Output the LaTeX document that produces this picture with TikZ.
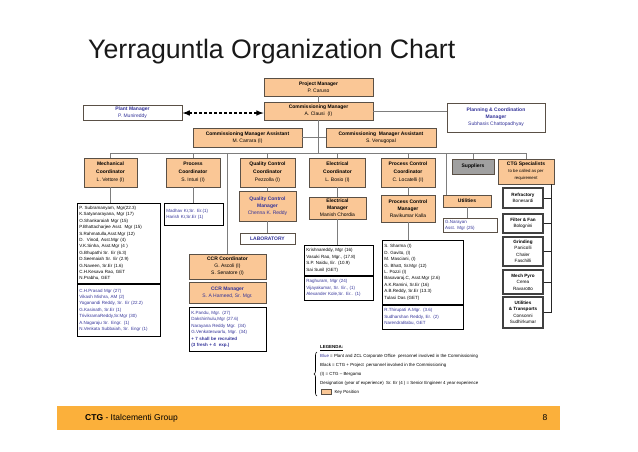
\documentclass[tikz,border=0pt]{standalone}
\usepackage{fontspec}
\setmainfont{Liberation Sans}
\usetikzlibrary{positioning, arrows, decorations.pathreplacing}
\definecolor{peach}{RGB}{250,199,150}
\definecolor{boxline}{RGB}{90,80,70}
\definecolor{wirecol}{RGB}{125,125,125}
\definecolor{zclblue}{RGB}{51,51,153}
\definecolor{supgray}{RGB}{160,160,160}
\definecolor{band}{RGB}{251,176,59}

\begin{document}
\begin{tikzpicture}[x=1pt, y=-1pt,
    box/.style={draw=boxline, line width=0.8pt, align=center, inner sep=1pt, font=\fontsize{5}{7}\selectfont},
    obox/.style={box, fill=peach},
    wbox/.style={box, fill=white, text=zclblue, line width=1pt},
    coord/.style={obox, minimum height=29pt, font=\fontsize{5}{8}\selectfont},
    list/.style={draw=black, line width=0.7pt, fill=white, anchor=north west, align=left, inner sep=2pt, font=\fontsize{4.5}{6.4}\selectfont},
    side/.style={box, fill=white, line width=1.3pt, draw=black!75, minimum width=40pt, font=\fontsize{4.6}{6.5}\selectfont},
    wire/.style={draw=wirecol, line width=1pt},
    legend/.style={anchor=west, inner sep=0pt, font=\fontsize{4.4}{6}\selectfont}]
\useasboundingbox (0,0) rectangle (638,451);

% title and footer
\node[anchor=base west, inner sep=0pt, text=black!90, font=\fontsize{26.7}{30}\selectfont] (title) at (88,58) {Yerraguntla Organization Chart};
\fill[band] (57,406) rectangle (560,430);
\node[anchor=west, inner sep=0pt, font=\fontsize{8.5}{10}\selectfont] (foot) at (85,418) {\textbf{CTG} - Italcementi Group};
\node[inner sep=0pt, font=\fontsize{8.5}{10}\selectfont] (page) at (545,418) {8};

% top management
\node[obox, minimum width=109pt, minimum height=18pt] (pm) at (318.5,87) {\textbf{Project Manager}\\P. Caruso};
\node[obox, minimum width=109pt, minimum height=18pt] (cm) at (318.5,111) {\textbf{Commissioning Manager}\\A. Clausi~~(I)};
\node[wbox, minimum width=99pt, minimum height=15pt] (plant) at (132.5,113) {\textbf{Plant Manager}\\P. Munireddy};
\node[wbox, minimum width=98pt, minimum height=29pt] (plan) at (496,117.5) {\textbf{Planning \& Coordination}\\\textbf{Manager}\\Subhasis Chattopadhyay};
\node[obox, minimum width=109pt, minimum height=19pt] (asl) at (247.5,137.5) {\textbf{Commissioning Manager Assistant}\\M. Carrara (I)};
\node[obox, minimum width=110pt, minimum height=19pt] (asr) at (381,137.5) {\textbf{Commissioning~~Manager Assistant}\\S. Venugopal};

% coordinators
\node[coord, minimum width=53pt] (mech) at (110.5,172.5) {\textbf{Mechanical}\\\textbf{Coordinator}\\L. Vettore (I)};
\node[coord, minimum width=54pt] (proc) at (193,172.5) {\textbf{Process}\\\textbf{Coordinator}\\S. Inturi (I)};
\node[coord, minimum width=55pt] (qcc) at (267.5,172.5) {\textbf{Quality Control}\\\textbf{Coordinator}\\Pezzolla (I)};
\node[coord, minimum width=56pt] (elc) at (337.5,172.5) {\textbf{Electrical}\\\textbf{Coordinator}\\L. Bosio (I)};
\node[coord, minimum width=54pt] (pcc) at (408,172.5) {\textbf{Process Control}\\\textbf{Coordinator}\\C. Locatelli (I)};
\node[box, fill=supgray, minimum width=42pt, minimum height=15pt] (sup) at (473,166.5) {\textbf{Suppliers}};
\node[obox, minimum width=56pt, minimum height=25pt] (ctg) at (526,171.5) {\textbf{CTG Specialists}\\{\fontsize{4.3}{6}\selectfont to be called as per}\\{\fontsize{4.3}{6}\selectfont requirement}};

% managers under coordinators
\node[obox, text=zclblue, minimum width=57pt, minimum height=30pt] (qcm) at (267.5,206) {\textbf{Quality Control}\\\textbf{Manager}\\Chenna K. Reddy};
\node[wbox, minimum width=55pt, minimum height=11pt] (lab) at (267.5,238.5) {\textbf{LABORATORY}};
\node[obox, minimum width=77pt, minimum height=25pt] (ccrc) at (227.5,266.5) {\textbf{CCR Coordinator}\\G. Ascoli (I)\\S. Senatore (I)};
\node[obox, text=zclblue, minimum width=77pt, minimum height=21pt] (ccrm) at (227.5,292.5) {\textbf{CCR Manager}\\S. A Hameed, Sr. Mgr.};
\node[obox, minimum width=57pt, minimum height=22pt] (elm) at (337.5,208) {\textbf{Electrical}\\\textbf{Manager}\\Manish Chordia};
\node[obox, minimum width=54pt, minimum height=27pt] (pcm) at (408,208.5) {\textbf{Process Control}\\\textbf{Manager}\\Ravikumar Kalla};
\node[obox, minimum width=48pt, minimum height=12pt] (util) at (467,201) {\textbf{Utilities}};
\node[wbox, align=left, line width=0.8pt, text width=50pt, minimum height=14pt, inner sep=2pt, font=\fontsize{4.5}{6}\selectfont] (gn) at (470,225) {G.Narayan\\Asst. Mgr (25)};

% personnel lists
\node[list, text width=79pt, minimum height=80pt] (mlA) at (77,203) {P. Subramanyam, Mgr(22.3)\\K.Satyanarayana, Mgr (17)\\O.Shankaraiah Mgr (15)\\P.Bhattacharjee Asst. Mgr (15)\\S.Rahmatulla,Asst.Mgr (12)\\D.~~Vinod, Asst.Mgr (4)\\V.K.Sinha, Asst.Mgr (4 )\\G.Bhupathi Sr. Er (6.3)\\D.Seemaiah Sr. Er (2.9)\\G.Naveen, Sr.Er (1.6)\\C.H.Kesava Rao, GET\\N.Prabhu, GET};
\node[list, text=zclblue, text width=79pt, minimum height=52pt] (mlB) at (mlA.south west) {C.H.Prasad Mgr (27)\\Vikash Mishra, AM (2)\\Yoganandi Reddy, Sr. Er (22.2)\\G.Kasinath, Sr.Er (1)\\TrivikramaReddy,Sr.Mgr (30)\\A.Nagaraju Sr. Engr. (1)\\N.Venkata Subbaiah, Sr. Engr (1)};
\node[list, text=zclblue, text width=55pt, minimum height=22pt] (plA) at (164,203) {Madhav Kr,Sr. Er.(1)\\Harish Kr,Sr.Er (1)};
\node[list, text=zclblue, text width=73pt, minimum height=44pt] (ccrl) at (189,307) {K.Pandu, Mgr. (27)\\Dakshinhulu,Mgr (27.6)\\Narayana Reddy Mgr. (34)\\G.Venkateswarlu, Mgr. (34)\\\textbf{+ 7 shall be recruited}\\\textbf{(3 fresh + 4~~exp.)}};
\node[list, text width=65pt, minimum height=30pt] (elA) at (304,245) {Krishnareddy, Mgr (16)\\Vasuki Rao, Mgr., (17.8)\\S.P. Naidu, Er. (10.9)\\Sai Sunil (GET)};
\node[list, text=zclblue, text width=65pt, minimum height=24pt] (elB) at (elA.south west) {Raghuram, Mgr (24)\\Vijayakumar, Sr. Er., (1)\\Alexander Kole,Sr. Er.. (1)};
\node[list, text width=77pt, minimum height=64pt] (pcA) at (382,240) {S. Sharma (I)\\D. Gavito, (I)\\M. Masciani, (I)\\G. Bhatt, Sr.Mgr (12)\\L. Pozzi (I)\\Basavaraj.C, Asst.Mgr (2.6)\\A.K.Ramini, Sr.Er (16)\\A.B.Reddy, Sr.Er (13.3)\\Tulasi Das (GET)};
\node[list, text=zclblue, text width=77pt, minimum height=24pt] (pcB) at (pcA.south west) {R.Thirupati A.Mgr. (3.6)\\Sudharshan Reddy, Er. (2)\\NarendraBabu, GET};

% CTG specialists column
\node[side, minimum height=20pt] (ref) at (523,198) {\textbf{Refractory}\\Bonesardi};
\node[side, minimum height=19pt] (fil) at (523,223.5) {\textbf{Filter \& Fan}\\Bolognini};
\node[side, minimum height=29pt] (grd) at (523,251.5) {\textbf{Grinding}\\Panicolli\\Chaler\\Faschilli};
\node[side, minimum height=24pt] (mec) at (523,282) {\textbf{Mech Pyro}\\Cerea\\Ravarotto};
\node[side, minimum height=31pt] (utl) at (523,312.5) {\textbf{Utilities}\\\textbf{\& Transports}\\Consonni\\Sudhirkumar};

% connectors
\coordinate (busL) at (110.5,153);
\coordinate (busR) at (526,153);
\draw[wire] (busL) -- (busR);
\draw[wire] (cm.south) -- (cm.south |- busL);
\draw[wire] (pm.south) -- (cm.north);
\draw[wire] (asl.east) -- (asr.west);
\draw[wire] (cm.east) -- (cm.east -| plan.west);
\draw[<->, >=latex, dashed, dash pattern=on 3pt off 2pt, line width=1.5pt] (plant.east) -- (plant.east -| cm.west);
\foreach \n in {mech,proc,qcc,elc,pcc,sup,ctg,ccrc}
    \draw[wire] (\n.north) -- (\n.north |- busL);
\draw[wire] ([xshift=4pt]util.north west) -- ([xshift=4pt]util.north west |- busL);
\draw[wire] (mech.south) -- (mech.south |- mlA.north);
\draw[wire] (proc.south) -- (proc.south |- plA.north);
\draw[wire] (qcc.south) -- (qcm.north);
\draw[wire] (qcm.south) -- (lab.north);
\draw[wire] (elc.south) -- (elm.north);
\draw[wire] (elm.south) -- (elm.south |- elA.north);
\draw[wire] (pcc.south) -- (pcm.north);
\draw[wire] (pcm.south) -- (pcm.south |- pcA.north);
\draw[wire] (util.south) -- (util.south |- gn.north);
\coordinate (spine) at ([xshift=-3pt]ctg.south east);
\draw[wire, draw=black!85] (spine) -- (spine |- utl.east);
\foreach \n in {ref,fil,grd,mec,utl}
    \draw[wire, draw=black!85] (\n.east) -- (\n.east -| spine);

% legend
\node[legend] (lg0) at (320,348) {\textbf{\underline{LEGENDA:}}};
\node[legend] (lg1) at (320,356) {\textcolor{zclblue}{Blue} = Plant and ZCL Corporate Office~ personnel involved in the Commissioning};
\node[legend] (lg2) at (320,365) {Black = CTG + Project~ personnel involved in the Commissioning};
\node[legend] (lg3) at (320,374) {(I) = CTG -- Bergamo};
\node[legend] (lg4) at (320,383) {Designation (year of experience)~ Sr. Er (4 ) = Senior Engineer 4 year experience};
\node[draw=boxline, fill=peach, line width=0.6pt, minimum width=10pt, minimum height=5pt, inner sep=0pt] (key) at (326,392) {};
\node[legend] (lg5) at (key.east) [xshift=3pt] {Key Position};
\coordinate (brB) at (317,396);
\coordinate (brT) at (317,352);
\draw[decorate, decoration={brace, amplitude=3pt}, line width=0.6pt] (brB) -- (brT);
\end{tikzpicture}
\end{document}
